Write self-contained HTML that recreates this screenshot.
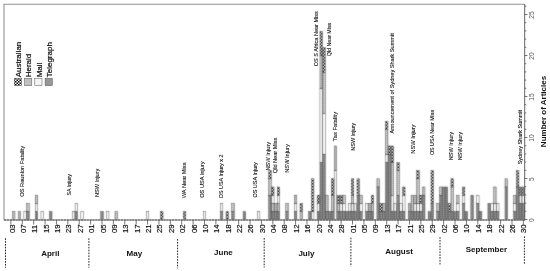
<!DOCTYPE html>
<html><head><meta charset="utf-8"><style>
html,body{margin:0;padding:0;background:#fff;width:550px;height:271px;overflow:hidden}
svg{display:block}
text{font-family:"Liberation Sans",Arial,sans-serif}
</style></head><body>
<svg width="550" height="271" viewBox="0 0 550 271">
<defs>
<filter id="bl" x="0" y="0" width="550" height="271" filterUnits="userSpaceOnUse" color-interpolation-filters="sRGB"><feConvolveMatrix order="3" kernelMatrix="0.03 0.09 0.03 0.09 0.52 0.09 0.03 0.09 0.03" edgeMode="duplicate"/></filter>
<pattern id="pA" width="3" height="3" patternUnits="userSpaceOnUse"><rect width="3" height="3" fill="#fff"/><rect width="1.5" height="1.5" fill="#000"/><rect x="1.5" y="1.5" width="1.5" height="1.5" fill="#000"/></pattern>
<pattern id="pH" width="2" height="2" patternUnits="userSpaceOnUse"><rect width="2" height="2" fill="#b4b4b4"/><rect width="1" height="1" fill="#e4e4e4"/></pattern>
<pattern id="pT" width="2" height="2" patternUnits="userSpaceOnUse"><rect width="2" height="2" fill="#8e8e8e"/><rect width="1" height="1" fill="#6e6e6e"/></pattern>
</defs>
<rect x="0" y="0" width="550" height="271" fill="#fff"/>
<!-- frame -->
<path d="M4,220 V4.3 H524.5" fill="none" stroke="#929292" stroke-width="1.1"/>
<g filter="url(#bl)">
<g>
<rect x="12.49" y="211.60" width="2.5" height="8.20" fill="url(#pH)"/>
<rect x="18.18" y="211.60" width="2.5" height="8.20" fill="url(#pH)"/>
<rect x="23.88" y="211.60" width="2.5" height="8.20" fill="#ffffff"/>
<rect x="26.73" y="211.60" width="2.5" height="8.20" fill="url(#pT)"/>
<rect x="26.73" y="203.40" width="2.5" height="8.20" fill="url(#pH)"/>
<rect x="35.27" y="211.60" width="2.5" height="8.20" fill="url(#pT)"/>
<rect x="35.27" y="203.40" width="2.5" height="8.20" fill="#ffffff"/>
<rect x="35.27" y="195.20" width="2.5" height="8.20" fill="url(#pH)"/>
<rect x="40.96" y="211.60" width="2.5" height="8.20" fill="#ffffff"/>
<rect x="49.50" y="211.60" width="2.5" height="8.20" fill="url(#pT)"/>
<rect x="72.28" y="211.60" width="2.5" height="8.20" fill="#ffffff"/>
<rect x="75.12" y="211.60" width="2.5" height="8.20" fill="url(#pT)"/>
<rect x="75.12" y="203.40" width="2.5" height="8.20" fill="#ffffff"/>
<rect x="80.82" y="211.60" width="2.5" height="8.20" fill="#ffffff"/>
<rect x="100.75" y="211.60" width="2.5" height="8.20" fill="url(#pT)"/>
<rect x="106.44" y="211.60" width="2.5" height="8.20" fill="#ffffff"/>
<rect x="114.98" y="211.60" width="2.5" height="8.20" fill="url(#pH)"/>
<rect x="146.30" y="211.60" width="2.5" height="8.20" fill="#ffffff"/>
<rect x="160.53" y="211.60" width="2.5" height="8.20" fill="url(#pA)"/>
<rect x="183.31" y="211.60" width="2.5" height="8.20" fill="url(#pA)"/>
<rect x="203.24" y="211.60" width="2.5" height="8.20" fill="#ffffff"/>
<rect x="220.32" y="211.60" width="2.5" height="8.20" fill="url(#pT)"/>
<rect x="220.32" y="203.40" width="2.5" height="8.20" fill="#ffffff"/>
<rect x="226.02" y="211.60" width="2.5" height="8.20" fill="url(#pA)"/>
<rect x="231.71" y="211.60" width="2.5" height="8.20" fill="url(#pT)"/>
<rect x="231.71" y="203.40" width="2.5" height="8.20" fill="url(#pH)"/>
<rect x="243.10" y="211.60" width="2.5" height="8.20" fill="url(#pT)"/>
<rect x="257.33" y="211.60" width="2.5" height="8.20" fill="#ffffff"/>
<rect x="268.72" y="195.20" width="2.5" height="24.60" fill="url(#pT)"/>
<rect x="268.72" y="178.80" width="2.5" height="16.40" fill="url(#pH)"/>
<rect x="268.72" y="170.60" width="2.5" height="8.20" fill="url(#pA)"/>
<rect x="271.57" y="211.60" width="2.5" height="8.20" fill="url(#pT)"/>
<rect x="271.57" y="203.40" width="2.5" height="8.20" fill="url(#pH)"/>
<rect x="271.57" y="195.20" width="2.5" height="8.20" fill="#ffffff"/>
<rect x="271.57" y="187.00" width="2.5" height="8.20" fill="url(#pA)"/>
<rect x="274.41" y="211.60" width="2.5" height="8.20" fill="url(#pT)"/>
<rect x="274.41" y="203.40" width="2.5" height="8.20" fill="url(#pH)"/>
<rect x="277.26" y="211.60" width="2.5" height="8.20" fill="url(#pT)"/>
<rect x="277.26" y="203.40" width="2.5" height="8.20" fill="url(#pH)"/>
<rect x="277.26" y="195.20" width="2.5" height="8.20" fill="#ffffff"/>
<rect x="277.26" y="187.00" width="2.5" height="8.20" fill="url(#pA)"/>
<rect x="285.80" y="211.60" width="2.5" height="8.20" fill="url(#pT)"/>
<rect x="285.80" y="203.40" width="2.5" height="8.20" fill="url(#pH)"/>
<rect x="294.34" y="211.60" width="2.5" height="8.20" fill="url(#pT)"/>
<rect x="294.34" y="203.40" width="2.5" height="8.20" fill="#ffffff"/>
<rect x="294.34" y="195.20" width="2.5" height="8.20" fill="url(#pH)"/>
<rect x="300.04" y="211.60" width="2.5" height="8.20" fill="url(#pH)"/>
<rect x="300.04" y="203.40" width="2.5" height="8.20" fill="url(#pA)"/>
<rect x="308.58" y="211.60" width="2.5" height="8.20" fill="url(#pT)"/>
<rect x="311.43" y="211.60" width="2.5" height="8.20" fill="#ffffff"/>
<rect x="311.43" y="178.80" width="2.5" height="32.80" fill="url(#pA)"/>
<rect x="317.12" y="211.60" width="2.5" height="8.20" fill="url(#pT)"/>
<rect x="317.12" y="203.40" width="2.5" height="8.20" fill="#ffffff"/>
<rect x="317.12" y="195.20" width="2.5" height="8.20" fill="url(#pA)"/>
<rect x="319.97" y="162.40" width="2.5" height="57.40" fill="url(#pT)"/>
<rect x="319.97" y="88.60" width="2.5" height="73.80" fill="#ffffff"/>
<rect x="319.97" y="55.80" width="2.5" height="32.80" fill="url(#pH)"/>
<rect x="319.97" y="31.20" width="2.5" height="24.60" fill="url(#pA)"/>
<rect x="322.81" y="154.20" width="2.5" height="65.60" fill="url(#pT)"/>
<rect x="322.81" y="113.20" width="2.5" height="41.00" fill="#ffffff"/>
<rect x="322.81" y="72.20" width="2.5" height="41.00" fill="url(#pH)"/>
<rect x="322.81" y="47.60" width="2.5" height="24.60" fill="url(#pA)"/>
<rect x="325.66" y="211.60" width="2.5" height="8.20" fill="url(#pT)"/>
<rect x="325.66" y="195.20" width="2.5" height="16.40" fill="url(#pH)"/>
<rect x="328.51" y="211.60" width="2.5" height="8.20" fill="url(#pT)"/>
<rect x="331.35" y="211.60" width="2.5" height="8.20" fill="url(#pT)"/>
<rect x="331.35" y="195.20" width="2.5" height="16.40" fill="url(#pH)"/>
<rect x="331.35" y="178.80" width="2.5" height="16.40" fill="url(#pA)"/>
<rect x="334.20" y="170.60" width="2.5" height="49.20" fill="#ffffff"/>
<rect x="334.20" y="146.00" width="2.5" height="24.60" fill="url(#pH)"/>
<rect x="337.05" y="211.60" width="2.5" height="8.20" fill="url(#pT)"/>
<rect x="337.05" y="203.40" width="2.5" height="8.20" fill="url(#pH)"/>
<rect x="337.05" y="195.20" width="2.5" height="8.20" fill="url(#pA)"/>
<rect x="339.90" y="211.60" width="2.5" height="8.20" fill="url(#pT)"/>
<rect x="339.90" y="203.40" width="2.5" height="8.20" fill="#ffffff"/>
<rect x="339.90" y="195.20" width="2.5" height="8.20" fill="url(#pA)"/>
<rect x="342.74" y="211.60" width="2.5" height="8.20" fill="url(#pT)"/>
<rect x="342.74" y="203.40" width="2.5" height="8.20" fill="#ffffff"/>
<rect x="342.74" y="195.20" width="2.5" height="8.20" fill="url(#pH)"/>
<rect x="345.59" y="211.60" width="2.5" height="8.20" fill="url(#pT)"/>
<rect x="348.44" y="211.60" width="2.5" height="8.20" fill="url(#pT)"/>
<rect x="348.44" y="203.40" width="2.5" height="8.20" fill="#ffffff"/>
<rect x="351.28" y="211.60" width="2.5" height="8.20" fill="url(#pT)"/>
<rect x="351.28" y="203.40" width="2.5" height="8.20" fill="#ffffff"/>
<rect x="351.28" y="195.20" width="2.5" height="8.20" fill="url(#pH)"/>
<rect x="351.28" y="178.80" width="2.5" height="16.40" fill="url(#pA)"/>
<rect x="354.13" y="211.60" width="2.5" height="8.20" fill="url(#pT)"/>
<rect x="354.13" y="203.40" width="2.5" height="8.20" fill="#ffffff"/>
<rect x="356.98" y="195.20" width="2.5" height="24.60" fill="url(#pT)"/>
<rect x="356.98" y="178.80" width="2.5" height="16.40" fill="url(#pA)"/>
<rect x="359.82" y="211.60" width="2.5" height="8.20" fill="url(#pT)"/>
<rect x="359.82" y="203.40" width="2.5" height="8.20" fill="#ffffff"/>
<rect x="359.82" y="195.20" width="2.5" height="8.20" fill="url(#pH)"/>
<rect x="365.52" y="211.60" width="2.5" height="8.20" fill="url(#pT)"/>
<rect x="365.52" y="203.40" width="2.5" height="8.20" fill="#ffffff"/>
<rect x="368.37" y="211.60" width="2.5" height="8.20" fill="url(#pT)"/>
<rect x="368.37" y="203.40" width="2.5" height="8.20" fill="url(#pH)"/>
<rect x="371.21" y="211.60" width="2.5" height="8.20" fill="url(#pT)"/>
<rect x="371.21" y="203.40" width="2.5" height="8.20" fill="url(#pH)"/>
<rect x="371.21" y="195.20" width="2.5" height="8.20" fill="url(#pA)"/>
<rect x="376.91" y="187.00" width="2.5" height="32.80" fill="url(#pT)"/>
<rect x="376.91" y="178.80" width="2.5" height="8.20" fill="url(#pH)"/>
<rect x="379.75" y="211.60" width="2.5" height="8.20" fill="url(#pT)"/>
<rect x="379.75" y="203.40" width="2.5" height="8.20" fill="url(#pA)"/>
<rect x="382.60" y="211.60" width="2.5" height="8.20" fill="url(#pT)"/>
<rect x="382.60" y="203.40" width="2.5" height="8.20" fill="url(#pH)"/>
<rect x="385.45" y="162.40" width="2.5" height="57.40" fill="url(#pT)"/>
<rect x="385.45" y="154.20" width="2.5" height="8.20" fill="#ffffff"/>
<rect x="385.45" y="129.60" width="2.5" height="24.60" fill="url(#pH)"/>
<rect x="385.45" y="121.40" width="2.5" height="8.20" fill="url(#pA)"/>
<rect x="388.29" y="154.20" width="2.5" height="65.60" fill="url(#pT)"/>
<rect x="388.29" y="146.00" width="2.5" height="8.20" fill="url(#pA)"/>
<rect x="391.14" y="211.60" width="2.5" height="8.20" fill="url(#pT)"/>
<rect x="391.14" y="195.20" width="2.5" height="16.40" fill="#ffffff"/>
<rect x="391.14" y="162.40" width="2.5" height="32.80" fill="url(#pH)"/>
<rect x="391.14" y="146.00" width="2.5" height="16.40" fill="url(#pA)"/>
<rect x="393.99" y="211.60" width="2.5" height="8.20" fill="url(#pT)"/>
<rect x="393.99" y="203.40" width="2.5" height="8.20" fill="#ffffff"/>
<rect x="396.84" y="195.20" width="2.5" height="24.60" fill="url(#pT)"/>
<rect x="396.84" y="170.60" width="2.5" height="24.60" fill="url(#pH)"/>
<rect x="396.84" y="162.40" width="2.5" height="8.20" fill="url(#pA)"/>
<rect x="399.68" y="211.60" width="2.5" height="8.20" fill="url(#pT)"/>
<rect x="399.68" y="203.40" width="2.5" height="8.20" fill="#ffffff"/>
<rect x="402.53" y="211.60" width="2.5" height="8.20" fill="url(#pT)"/>
<rect x="402.53" y="195.20" width="2.5" height="16.40" fill="#ffffff"/>
<rect x="402.53" y="187.00" width="2.5" height="8.20" fill="url(#pA)"/>
<rect x="408.22" y="211.60" width="2.5" height="8.20" fill="url(#pT)"/>
<rect x="408.22" y="203.40" width="2.5" height="8.20" fill="url(#pH)"/>
<rect x="411.07" y="211.60" width="2.5" height="8.20" fill="url(#pT)"/>
<rect x="411.07" y="195.20" width="2.5" height="16.40" fill="url(#pH)"/>
<rect x="413.92" y="211.60" width="2.5" height="8.20" fill="url(#pT)"/>
<rect x="413.92" y="203.40" width="2.5" height="8.20" fill="#ffffff"/>
<rect x="413.92" y="195.20" width="2.5" height="8.20" fill="url(#pH)"/>
<rect x="416.76" y="211.60" width="2.5" height="8.20" fill="url(#pT)"/>
<rect x="416.76" y="203.40" width="2.5" height="8.20" fill="#ffffff"/>
<rect x="416.76" y="178.80" width="2.5" height="24.60" fill="url(#pH)"/>
<rect x="416.76" y="170.60" width="2.5" height="8.20" fill="url(#pA)"/>
<rect x="419.61" y="211.60" width="2.5" height="8.20" fill="url(#pT)"/>
<rect x="419.61" y="203.40" width="2.5" height="8.20" fill="#ffffff"/>
<rect x="419.61" y="195.20" width="2.5" height="8.20" fill="url(#pA)"/>
<rect x="422.46" y="195.20" width="2.5" height="24.60" fill="url(#pT)"/>
<rect x="422.46" y="187.00" width="2.5" height="8.20" fill="url(#pH)"/>
<rect x="428.15" y="211.60" width="2.5" height="8.20" fill="url(#pT)"/>
<rect x="431.00" y="203.40" width="2.5" height="16.40" fill="url(#pT)"/>
<rect x="431.00" y="170.60" width="2.5" height="32.80" fill="url(#pA)"/>
<rect x="436.69" y="211.60" width="2.5" height="8.20" fill="url(#pT)"/>
<rect x="436.69" y="203.40" width="2.5" height="8.20" fill="url(#pH)"/>
<rect x="439.54" y="195.20" width="2.5" height="24.60" fill="url(#pT)"/>
<rect x="439.54" y="187.00" width="2.5" height="8.20" fill="url(#pH)"/>
<rect x="442.39" y="187.00" width="2.5" height="32.80" fill="url(#pT)"/>
<rect x="445.23" y="187.00" width="2.5" height="32.80" fill="url(#pT)"/>
<rect x="448.08" y="211.60" width="2.5" height="8.20" fill="url(#pT)"/>
<rect x="448.08" y="203.40" width="2.5" height="8.20" fill="url(#pA)"/>
<rect x="450.93" y="211.60" width="2.5" height="8.20" fill="url(#pT)"/>
<rect x="450.93" y="187.00" width="2.5" height="24.60" fill="url(#pH)"/>
<rect x="450.93" y="178.80" width="2.5" height="8.20" fill="url(#pA)"/>
<rect x="453.78" y="211.60" width="2.5" height="8.20" fill="url(#pT)"/>
<rect x="456.62" y="211.60" width="2.5" height="8.20" fill="url(#pT)"/>
<rect x="456.62" y="203.40" width="2.5" height="8.20" fill="#ffffff"/>
<rect x="456.62" y="195.20" width="2.5" height="8.20" fill="url(#pH)"/>
<rect x="462.32" y="203.40" width="2.5" height="16.40" fill="url(#pT)"/>
<rect x="462.32" y="195.20" width="2.5" height="8.20" fill="#ffffff"/>
<rect x="462.32" y="187.00" width="2.5" height="8.20" fill="url(#pA)"/>
<rect x="465.16" y="211.60" width="2.5" height="8.20" fill="url(#pT)"/>
<rect x="470.86" y="195.20" width="2.5" height="24.60" fill="url(#pT)"/>
<rect x="476.55" y="203.40" width="2.5" height="16.40" fill="url(#pT)"/>
<rect x="476.55" y="195.20" width="2.5" height="8.20" fill="#ffffff"/>
<rect x="479.40" y="211.60" width="2.5" height="8.20" fill="url(#pT)"/>
<rect x="487.94" y="203.40" width="2.5" height="16.40" fill="url(#pT)"/>
<rect x="490.79" y="211.60" width="2.5" height="8.20" fill="url(#pT)"/>
<rect x="490.79" y="203.40" width="2.5" height="8.20" fill="#ffffff"/>
<rect x="493.63" y="211.60" width="2.5" height="8.20" fill="url(#pT)"/>
<rect x="493.63" y="203.40" width="2.5" height="8.20" fill="#ffffff"/>
<rect x="493.63" y="187.00" width="2.5" height="16.40" fill="url(#pH)"/>
<rect x="496.48" y="211.60" width="2.5" height="8.20" fill="url(#pT)"/>
<rect x="496.48" y="203.40" width="2.5" height="8.20" fill="#ffffff"/>
<rect x="505.02" y="187.00" width="2.5" height="32.80" fill="url(#pT)"/>
<rect x="505.02" y="178.80" width="2.5" height="8.20" fill="url(#pH)"/>
<rect x="513.56" y="211.60" width="2.5" height="8.20" fill="url(#pT)"/>
<rect x="513.56" y="203.40" width="2.5" height="8.20" fill="#ffffff"/>
<rect x="513.56" y="195.20" width="2.5" height="8.20" fill="url(#pH)"/>
<rect x="516.41" y="187.00" width="2.5" height="32.80" fill="url(#pT)"/>
<rect x="516.41" y="170.60" width="2.5" height="16.40" fill="url(#pA)"/>
<rect x="519.26" y="203.40" width="2.5" height="16.40" fill="url(#pT)"/>
<rect x="519.26" y="195.20" width="2.5" height="8.20" fill="#ffffff"/>
<rect x="519.26" y="187.00" width="2.5" height="8.20" fill="url(#pA)"/>
<rect x="522.10" y="203.40" width="2.5" height="16.40" fill="url(#pT)"/>
<rect x="522.10" y="195.20" width="2.5" height="8.20" fill="#ffffff"/>
<rect x="522.10" y="187.00" width="2.5" height="8.20" fill="url(#pA)"/>
</g>
<g fill="none" stroke="#404040" stroke-width="0.45">
<rect x="12.49" y="211.60" width="2.5" height="8.20"/>
<rect x="18.18" y="211.60" width="2.5" height="8.20"/>
<rect x="23.88" y="211.60" width="2.5" height="8.20"/>
<rect x="26.73" y="211.60" width="2.5" height="8.20"/>
<rect x="26.73" y="203.40" width="2.5" height="8.20"/>
<rect x="35.27" y="211.60" width="2.5" height="8.20"/>
<rect x="35.27" y="203.40" width="2.5" height="8.20"/>
<rect x="35.27" y="195.20" width="2.5" height="8.20"/>
<rect x="40.96" y="211.60" width="2.5" height="8.20"/>
<rect x="49.50" y="211.60" width="2.5" height="8.20"/>
<rect x="72.28" y="211.60" width="2.5" height="8.20"/>
<rect x="75.12" y="211.60" width="2.5" height="8.20"/>
<rect x="75.12" y="203.40" width="2.5" height="8.20"/>
<rect x="80.82" y="211.60" width="2.5" height="8.20"/>
<rect x="100.75" y="211.60" width="2.5" height="8.20"/>
<rect x="106.44" y="211.60" width="2.5" height="8.20"/>
<rect x="114.98" y="211.60" width="2.5" height="8.20"/>
<rect x="146.30" y="211.60" width="2.5" height="8.20"/>
<rect x="160.53" y="211.60" width="2.5" height="8.20"/>
<rect x="183.31" y="211.60" width="2.5" height="8.20"/>
<rect x="203.24" y="211.60" width="2.5" height="8.20"/>
<rect x="220.32" y="211.60" width="2.5" height="8.20"/>
<rect x="220.32" y="203.40" width="2.5" height="8.20"/>
<rect x="226.02" y="211.60" width="2.5" height="8.20"/>
<rect x="231.71" y="211.60" width="2.5" height="8.20"/>
<rect x="231.71" y="203.40" width="2.5" height="8.20"/>
<rect x="243.10" y="211.60" width="2.5" height="8.20"/>
<rect x="257.33" y="211.60" width="2.5" height="8.20"/>
<rect x="268.72" y="195.20" width="2.5" height="24.60"/>
<rect x="268.72" y="178.80" width="2.5" height="16.40"/>
<rect x="268.72" y="170.60" width="2.5" height="8.20"/>
<rect x="271.57" y="211.60" width="2.5" height="8.20"/>
<rect x="271.57" y="203.40" width="2.5" height="8.20"/>
<rect x="271.57" y="195.20" width="2.5" height="8.20"/>
<rect x="271.57" y="187.00" width="2.5" height="8.20"/>
<rect x="274.41" y="211.60" width="2.5" height="8.20"/>
<rect x="274.41" y="203.40" width="2.5" height="8.20"/>
<rect x="277.26" y="211.60" width="2.5" height="8.20"/>
<rect x="277.26" y="203.40" width="2.5" height="8.20"/>
<rect x="277.26" y="195.20" width="2.5" height="8.20"/>
<rect x="277.26" y="187.00" width="2.5" height="8.20"/>
<rect x="285.80" y="211.60" width="2.5" height="8.20"/>
<rect x="285.80" y="203.40" width="2.5" height="8.20"/>
<rect x="294.34" y="211.60" width="2.5" height="8.20"/>
<rect x="294.34" y="203.40" width="2.5" height="8.20"/>
<rect x="294.34" y="195.20" width="2.5" height="8.20"/>
<rect x="300.04" y="211.60" width="2.5" height="8.20"/>
<rect x="300.04" y="203.40" width="2.5" height="8.20"/>
<rect x="308.58" y="211.60" width="2.5" height="8.20"/>
<rect x="311.43" y="211.60" width="2.5" height="8.20"/>
<rect x="311.43" y="178.80" width="2.5" height="32.80"/>
<rect x="317.12" y="211.60" width="2.5" height="8.20"/>
<rect x="317.12" y="203.40" width="2.5" height="8.20"/>
<rect x="317.12" y="195.20" width="2.5" height="8.20"/>
<rect x="319.97" y="162.40" width="2.5" height="57.40"/>
<rect x="319.97" y="88.60" width="2.5" height="73.80"/>
<rect x="319.97" y="55.80" width="2.5" height="32.80"/>
<rect x="319.97" y="31.20" width="2.5" height="24.60"/>
<rect x="322.81" y="154.20" width="2.5" height="65.60"/>
<rect x="322.81" y="113.20" width="2.5" height="41.00"/>
<rect x="322.81" y="72.20" width="2.5" height="41.00"/>
<rect x="322.81" y="47.60" width="2.5" height="24.60"/>
<rect x="325.66" y="211.60" width="2.5" height="8.20"/>
<rect x="325.66" y="195.20" width="2.5" height="16.40"/>
<rect x="328.51" y="211.60" width="2.5" height="8.20"/>
<rect x="331.35" y="211.60" width="2.5" height="8.20"/>
<rect x="331.35" y="195.20" width="2.5" height="16.40"/>
<rect x="331.35" y="178.80" width="2.5" height="16.40"/>
<rect x="334.20" y="170.60" width="2.5" height="49.20"/>
<rect x="334.20" y="146.00" width="2.5" height="24.60"/>
<rect x="337.05" y="211.60" width="2.5" height="8.20"/>
<rect x="337.05" y="203.40" width="2.5" height="8.20"/>
<rect x="337.05" y="195.20" width="2.5" height="8.20"/>
<rect x="339.90" y="211.60" width="2.5" height="8.20"/>
<rect x="339.90" y="203.40" width="2.5" height="8.20"/>
<rect x="339.90" y="195.20" width="2.5" height="8.20"/>
<rect x="342.74" y="211.60" width="2.5" height="8.20"/>
<rect x="342.74" y="203.40" width="2.5" height="8.20"/>
<rect x="342.74" y="195.20" width="2.5" height="8.20"/>
<rect x="345.59" y="211.60" width="2.5" height="8.20"/>
<rect x="348.44" y="211.60" width="2.5" height="8.20"/>
<rect x="348.44" y="203.40" width="2.5" height="8.20"/>
<rect x="351.28" y="211.60" width="2.5" height="8.20"/>
<rect x="351.28" y="203.40" width="2.5" height="8.20"/>
<rect x="351.28" y="195.20" width="2.5" height="8.20"/>
<rect x="351.28" y="178.80" width="2.5" height="16.40"/>
<rect x="354.13" y="211.60" width="2.5" height="8.20"/>
<rect x="354.13" y="203.40" width="2.5" height="8.20"/>
<rect x="356.98" y="195.20" width="2.5" height="24.60"/>
<rect x="356.98" y="178.80" width="2.5" height="16.40"/>
<rect x="359.82" y="211.60" width="2.5" height="8.20"/>
<rect x="359.82" y="203.40" width="2.5" height="8.20"/>
<rect x="359.82" y="195.20" width="2.5" height="8.20"/>
<rect x="365.52" y="211.60" width="2.5" height="8.20"/>
<rect x="365.52" y="203.40" width="2.5" height="8.20"/>
<rect x="368.37" y="211.60" width="2.5" height="8.20"/>
<rect x="368.37" y="203.40" width="2.5" height="8.20"/>
<rect x="371.21" y="211.60" width="2.5" height="8.20"/>
<rect x="371.21" y="203.40" width="2.5" height="8.20"/>
<rect x="371.21" y="195.20" width="2.5" height="8.20"/>
<rect x="376.91" y="187.00" width="2.5" height="32.80"/>
<rect x="376.91" y="178.80" width="2.5" height="8.20"/>
<rect x="379.75" y="211.60" width="2.5" height="8.20"/>
<rect x="379.75" y="203.40" width="2.5" height="8.20"/>
<rect x="382.60" y="211.60" width="2.5" height="8.20"/>
<rect x="382.60" y="203.40" width="2.5" height="8.20"/>
<rect x="385.45" y="162.40" width="2.5" height="57.40"/>
<rect x="385.45" y="154.20" width="2.5" height="8.20"/>
<rect x="385.45" y="129.60" width="2.5" height="24.60"/>
<rect x="385.45" y="121.40" width="2.5" height="8.20"/>
<rect x="388.29" y="154.20" width="2.5" height="65.60"/>
<rect x="388.29" y="146.00" width="2.5" height="8.20"/>
<rect x="391.14" y="211.60" width="2.5" height="8.20"/>
<rect x="391.14" y="195.20" width="2.5" height="16.40"/>
<rect x="391.14" y="162.40" width="2.5" height="32.80"/>
<rect x="391.14" y="146.00" width="2.5" height="16.40"/>
<rect x="393.99" y="211.60" width="2.5" height="8.20"/>
<rect x="393.99" y="203.40" width="2.5" height="8.20"/>
<rect x="396.84" y="195.20" width="2.5" height="24.60"/>
<rect x="396.84" y="170.60" width="2.5" height="24.60"/>
<rect x="396.84" y="162.40" width="2.5" height="8.20"/>
<rect x="399.68" y="211.60" width="2.5" height="8.20"/>
<rect x="399.68" y="203.40" width="2.5" height="8.20"/>
<rect x="402.53" y="211.60" width="2.5" height="8.20"/>
<rect x="402.53" y="195.20" width="2.5" height="16.40"/>
<rect x="402.53" y="187.00" width="2.5" height="8.20"/>
<rect x="408.22" y="211.60" width="2.5" height="8.20"/>
<rect x="408.22" y="203.40" width="2.5" height="8.20"/>
<rect x="411.07" y="211.60" width="2.5" height="8.20"/>
<rect x="411.07" y="195.20" width="2.5" height="16.40"/>
<rect x="413.92" y="211.60" width="2.5" height="8.20"/>
<rect x="413.92" y="203.40" width="2.5" height="8.20"/>
<rect x="413.92" y="195.20" width="2.5" height="8.20"/>
<rect x="416.76" y="211.60" width="2.5" height="8.20"/>
<rect x="416.76" y="203.40" width="2.5" height="8.20"/>
<rect x="416.76" y="178.80" width="2.5" height="24.60"/>
<rect x="416.76" y="170.60" width="2.5" height="8.20"/>
<rect x="419.61" y="211.60" width="2.5" height="8.20"/>
<rect x="419.61" y="203.40" width="2.5" height="8.20"/>
<rect x="419.61" y="195.20" width="2.5" height="8.20"/>
<rect x="422.46" y="195.20" width="2.5" height="24.60"/>
<rect x="422.46" y="187.00" width="2.5" height="8.20"/>
<rect x="428.15" y="211.60" width="2.5" height="8.20"/>
<rect x="431.00" y="203.40" width="2.5" height="16.40"/>
<rect x="431.00" y="170.60" width="2.5" height="32.80"/>
<rect x="436.69" y="211.60" width="2.5" height="8.20"/>
<rect x="436.69" y="203.40" width="2.5" height="8.20"/>
<rect x="439.54" y="195.20" width="2.5" height="24.60"/>
<rect x="439.54" y="187.00" width="2.5" height="8.20"/>
<rect x="442.39" y="187.00" width="2.5" height="32.80"/>
<rect x="445.23" y="187.00" width="2.5" height="32.80"/>
<rect x="448.08" y="211.60" width="2.5" height="8.20"/>
<rect x="448.08" y="203.40" width="2.5" height="8.20"/>
<rect x="450.93" y="211.60" width="2.5" height="8.20"/>
<rect x="450.93" y="187.00" width="2.5" height="24.60"/>
<rect x="450.93" y="178.80" width="2.5" height="8.20"/>
<rect x="453.78" y="211.60" width="2.5" height="8.20"/>
<rect x="456.62" y="211.60" width="2.5" height="8.20"/>
<rect x="456.62" y="203.40" width="2.5" height="8.20"/>
<rect x="456.62" y="195.20" width="2.5" height="8.20"/>
<rect x="462.32" y="203.40" width="2.5" height="16.40"/>
<rect x="462.32" y="195.20" width="2.5" height="8.20"/>
<rect x="462.32" y="187.00" width="2.5" height="8.20"/>
<rect x="465.16" y="211.60" width="2.5" height="8.20"/>
<rect x="470.86" y="195.20" width="2.5" height="24.60"/>
<rect x="476.55" y="203.40" width="2.5" height="16.40"/>
<rect x="476.55" y="195.20" width="2.5" height="8.20"/>
<rect x="479.40" y="211.60" width="2.5" height="8.20"/>
<rect x="487.94" y="203.40" width="2.5" height="16.40"/>
<rect x="490.79" y="211.60" width="2.5" height="8.20"/>
<rect x="490.79" y="203.40" width="2.5" height="8.20"/>
<rect x="493.63" y="211.60" width="2.5" height="8.20"/>
<rect x="493.63" y="203.40" width="2.5" height="8.20"/>
<rect x="493.63" y="187.00" width="2.5" height="16.40"/>
<rect x="496.48" y="211.60" width="2.5" height="8.20"/>
<rect x="496.48" y="203.40" width="2.5" height="8.20"/>
<rect x="505.02" y="187.00" width="2.5" height="32.80"/>
<rect x="505.02" y="178.80" width="2.5" height="8.20"/>
<rect x="513.56" y="211.60" width="2.5" height="8.20"/>
<rect x="513.56" y="203.40" width="2.5" height="8.20"/>
<rect x="513.56" y="195.20" width="2.5" height="8.20"/>
<rect x="516.41" y="187.00" width="2.5" height="32.80"/>
<rect x="516.41" y="170.60" width="2.5" height="16.40"/>
<rect x="519.26" y="203.40" width="2.5" height="16.40"/>
<rect x="519.26" y="195.20" width="2.5" height="8.20"/>
<rect x="519.26" y="187.00" width="2.5" height="8.20"/>
<rect x="522.10" y="203.40" width="2.5" height="16.40"/>
<rect x="522.10" y="195.20" width="2.5" height="8.20"/>
<rect x="522.10" y="187.00" width="2.5" height="8.20"/>
</g>
</g>
<!-- axes -->
<line x1="4" y1="220.0" x2="524.7" y2="220.0" stroke="#999" stroke-width="1.1"/>
<line x1="6.97" y1="220.0" x2="524.7" y2="220.0" stroke="#505050" stroke-width="1.1" stroke-dasharray="2.147,0.7"/>
<line x1="4" y1="220.0" x2="6.27" y2="220.0" stroke="#505050" stroke-width="1.1"/>
<line x1="524.7" y1="4" x2="524.7" y2="220.5" stroke="#555" stroke-width="0.9"/>
<g stroke="#555" stroke-width="0.8">
<line x1="10.89" y1="220" x2="10.89" y2="224.6"/>
<line x1="22.28" y1="220" x2="22.28" y2="224.6"/>
<line x1="33.67" y1="220" x2="33.67" y2="224.6"/>
<line x1="45.06" y1="220" x2="45.06" y2="224.6"/>
<line x1="56.45" y1="220" x2="56.45" y2="224.6"/>
<line x1="67.83" y1="220" x2="67.83" y2="224.6"/>
<line x1="79.22" y1="220" x2="79.22" y2="224.6"/>
<line x1="90.61" y1="220" x2="90.61" y2="224.6"/>
<line x1="102.00" y1="220" x2="102.00" y2="224.6"/>
<line x1="113.39" y1="220" x2="113.39" y2="224.6"/>
<line x1="124.77" y1="220" x2="124.77" y2="224.6"/>
<line x1="136.16" y1="220" x2="136.16" y2="224.6"/>
<line x1="147.55" y1="220" x2="147.55" y2="224.6"/>
<line x1="158.94" y1="220" x2="158.94" y2="224.6"/>
<line x1="170.33" y1="220" x2="170.33" y2="224.6"/>
<line x1="181.71" y1="220" x2="181.71" y2="224.6"/>
<line x1="193.10" y1="220" x2="193.10" y2="224.6"/>
<line x1="204.49" y1="220" x2="204.49" y2="224.6"/>
<line x1="215.88" y1="220" x2="215.88" y2="224.6"/>
<line x1="227.27" y1="220" x2="227.27" y2="224.6"/>
<line x1="238.65" y1="220" x2="238.65" y2="224.6"/>
<line x1="250.04" y1="220" x2="250.04" y2="224.6"/>
<line x1="261.43" y1="220" x2="261.43" y2="224.6"/>
<line x1="272.82" y1="220" x2="272.82" y2="224.6"/>
<line x1="284.21" y1="220" x2="284.21" y2="224.6"/>
<line x1="295.59" y1="220" x2="295.59" y2="224.6"/>
<line x1="306.98" y1="220" x2="306.98" y2="224.6"/>
<line x1="318.37" y1="220" x2="318.37" y2="224.6"/>
<line x1="329.76" y1="220" x2="329.76" y2="224.6"/>
<line x1="341.15" y1="220" x2="341.15" y2="224.6"/>
<line x1="352.53" y1="220" x2="352.53" y2="224.6"/>
<line x1="363.92" y1="220" x2="363.92" y2="224.6"/>
<line x1="375.31" y1="220" x2="375.31" y2="224.6"/>
<line x1="386.70" y1="220" x2="386.70" y2="224.6"/>
<line x1="398.09" y1="220" x2="398.09" y2="224.6"/>
<line x1="409.47" y1="220" x2="409.47" y2="224.6"/>
<line x1="420.86" y1="220" x2="420.86" y2="224.6"/>
<line x1="432.25" y1="220" x2="432.25" y2="224.6"/>
<line x1="443.64" y1="220" x2="443.64" y2="224.6"/>
<line x1="455.03" y1="220" x2="455.03" y2="224.6"/>
<line x1="466.41" y1="220" x2="466.41" y2="224.6"/>
<line x1="477.80" y1="220" x2="477.80" y2="224.6"/>
<line x1="489.19" y1="220" x2="489.19" y2="224.6"/>
<line x1="500.58" y1="220" x2="500.58" y2="224.6"/>
<line x1="511.97" y1="220" x2="511.97" y2="224.6"/>
<line x1="523.35" y1="220" x2="523.35" y2="224.6"/>
<line x1="524.5" y1="219.50" x2="527.5" y2="219.50"/>
<line x1="524.5" y1="211.30" x2="526.3" y2="211.30"/>
<line x1="524.5" y1="203.10" x2="526.3" y2="203.10"/>
<line x1="524.5" y1="194.90" x2="526.3" y2="194.90"/>
<line x1="524.5" y1="186.70" x2="526.3" y2="186.70"/>
<line x1="524.5" y1="178.50" x2="527.5" y2="178.50"/>
<line x1="524.5" y1="170.30" x2="526.3" y2="170.30"/>
<line x1="524.5" y1="162.10" x2="526.3" y2="162.10"/>
<line x1="524.5" y1="153.90" x2="526.3" y2="153.90"/>
<line x1="524.5" y1="145.70" x2="526.3" y2="145.70"/>
<line x1="524.5" y1="137.50" x2="527.5" y2="137.50"/>
<line x1="524.5" y1="129.30" x2="526.3" y2="129.30"/>
<line x1="524.5" y1="121.10" x2="526.3" y2="121.10"/>
<line x1="524.5" y1="112.90" x2="526.3" y2="112.90"/>
<line x1="524.5" y1="104.70" x2="526.3" y2="104.70"/>
<line x1="524.5" y1="96.50" x2="527.5" y2="96.50"/>
<line x1="524.5" y1="88.30" x2="526.3" y2="88.30"/>
<line x1="524.5" y1="80.10" x2="526.3" y2="80.10"/>
<line x1="524.5" y1="71.90" x2="526.3" y2="71.90"/>
<line x1="524.5" y1="63.70" x2="526.3" y2="63.70"/>
<line x1="524.5" y1="55.50" x2="527.5" y2="55.50"/>
<line x1="524.5" y1="47.30" x2="526.3" y2="47.30"/>
<line x1="524.5" y1="39.10" x2="526.3" y2="39.10"/>
<line x1="524.5" y1="30.90" x2="526.3" y2="30.90"/>
<line x1="524.5" y1="22.70" x2="526.3" y2="22.70"/>
<line x1="524.5" y1="14.50" x2="527.5" y2="14.50"/>
<line x1="524.5" y1="6.30" x2="526.3" y2="6.30"/>
</g>
<g font-size="7.8" fill="#111" stroke="#111" stroke-width="0.2">
<text transform="translate(14.59,233.1) rotate(-90)">03</text>
<text transform="translate(25.96,233.1) rotate(-90)">07</text>
<text transform="translate(37.33,233.1) rotate(-90)">11</text>
<text transform="translate(48.70,233.1) rotate(-90)">15</text>
<text transform="translate(60.07,233.1) rotate(-90)">19</text>
<text transform="translate(71.45,233.1) rotate(-90)">23</text>
<text transform="translate(82.82,233.1) rotate(-90)">27</text>
<text transform="translate(94.19,233.1) rotate(-90)">01</text>
<text transform="translate(105.56,233.1) rotate(-90)">05</text>
<text transform="translate(116.93,233.1) rotate(-90)">09</text>
<text transform="translate(128.30,233.1) rotate(-90)">13</text>
<text transform="translate(139.67,233.1) rotate(-90)">17</text>
<text transform="translate(151.04,233.1) rotate(-90)">21</text>
<text transform="translate(162.41,233.1) rotate(-90)">25</text>
<text transform="translate(173.78,233.1) rotate(-90)">29</text>
<text transform="translate(185.15,233.1) rotate(-90)">02</text>
<text transform="translate(196.52,233.1) rotate(-90)">06</text>
<text transform="translate(207.89,233.1) rotate(-90)">10</text>
<text transform="translate(219.26,233.1) rotate(-90)">14</text>
<text transform="translate(230.63,233.1) rotate(-90)">18</text>
<text transform="translate(242.00,233.1) rotate(-90)">22</text>
<text transform="translate(253.37,233.1) rotate(-90)">26</text>
<text transform="translate(264.74,233.1) rotate(-90)">30</text>
<text transform="translate(276.11,233.1) rotate(-90)">04</text>
<text transform="translate(287.48,233.1) rotate(-90)">08</text>
<text transform="translate(298.85,233.1) rotate(-90)">12</text>
<text transform="translate(310.22,233.1) rotate(-90)">16</text>
<text transform="translate(321.59,233.1) rotate(-90)">20</text>
<text transform="translate(332.96,233.1) rotate(-90)">24</text>
<text transform="translate(344.33,233.1) rotate(-90)">28</text>
<text transform="translate(355.70,233.1) rotate(-90)">01</text>
<text transform="translate(367.07,233.1) rotate(-90)">05</text>
<text transform="translate(378.44,233.1) rotate(-90)">09</text>
<text transform="translate(389.81,233.1) rotate(-90)">13</text>
<text transform="translate(401.18,233.1) rotate(-90)">17</text>
<text transform="translate(412.55,233.1) rotate(-90)">21</text>
<text transform="translate(423.92,233.1) rotate(-90)">25</text>
<text transform="translate(435.29,233.1) rotate(-90)">29</text>
<text transform="translate(446.66,233.1) rotate(-90)">02</text>
<text transform="translate(458.03,233.1) rotate(-90)">06</text>
<text transform="translate(469.40,233.1) rotate(-90)">10</text>
<text transform="translate(480.77,233.1) rotate(-90)">14</text>
<text transform="translate(492.14,233.1) rotate(-90)">18</text>
<text transform="translate(503.51,233.1) rotate(-90)">22</text>
<text transform="translate(514.88,233.1) rotate(-90)">26</text>
<text transform="translate(526.25,233.1) rotate(-90)">30</text>
</g>
<g font-size="6.6" fill="#555">
<text transform="translate(533.70,220.10) rotate(-90)" text-anchor="middle">0</text>
<text transform="translate(533.70,179.10) rotate(-90)" text-anchor="middle">5</text>
<text transform="translate(533.70,138.10) rotate(-90)" text-anchor="middle">10</text>
<text transform="translate(533.70,97.10) rotate(-90)" text-anchor="middle">15</text>
<text transform="translate(533.70,56.10) rotate(-90)" text-anchor="middle">20</text>
<text transform="translate(533.70,15.10) rotate(-90)" text-anchor="middle">25</text>
</g>
<text transform="translate(545.6,111.5) rotate(-90)" text-anchor="middle" font-size="8" font-weight="bold" fill="#111">Number of Articles</text>
<g font-size="5.6" fill="#1a1a1a" stroke="#1a1a1a" stroke-width="0.12">
<text transform="translate(23.60,196.70) rotate(-90)" font-size="5.7">OS Reunion Fatality</text>
<text transform="translate(70.80,195.50) rotate(-90)" font-size="5.35">SA Injury</text>
<text transform="translate(98.90,197.00) rotate(-90)" font-size="5.6">NSW Injury</text>
<text transform="translate(186.40,198.30) rotate(-90)" font-size="5.7">WA Near Miss</text>
<text transform="translate(204.40,197.80) rotate(-90)" font-size="5.65">OS USA Injury</text>
<text transform="translate(223.20,198.30) rotate(-90)" font-size="5.45">OS USA Injury x 2</text>
<text transform="translate(257.00,197.60) rotate(-90)" font-size="5.5">OS USA Injury</text>
<text transform="translate(270.30,170.60) rotate(-90)" font-size="5.7">NSW Injury</text>
<text transform="translate(276.90,173.20) rotate(-90)" font-size="5.6">Qld Near Miss</text>
<text transform="translate(288.60,172.70) rotate(-90)" font-size="5.65">NSW Injury</text>
<text transform="translate(317.60,66.30) rotate(-90)" font-size="5.55">OS S Africa Near Miss</text>
<text transform="translate(330.60,56.30) rotate(-90)" font-size="5.3">Qld Near Miss</text>
<text transform="translate(337.40,141.20) rotate(-90)" font-size="5.8">Tas Fatality</text>
<text transform="translate(355.00,150.70) rotate(-90)" font-size="5.5">NSW Injury</text>
<text transform="translate(393.80,133.50) rotate(-90)" font-size="5.57">Announcement of Sydney Shark Summit</text>
<text transform="translate(414.60,153.80) rotate(-90)" font-size="5.8">NSW Injury</text>
<text transform="translate(434.00,155.00) rotate(-90)" font-size="5.3">OS USA Near Miss</text>
<text transform="translate(453.40,160.30) rotate(-90)" font-size="5.6">NSW Injury</text>
<text transform="translate(461.50,160.30) rotate(-90)" font-size="5.6">NSW Injury</text>
<text transform="translate(521.80,164.30) rotate(-90)" font-size="5.5">Sydney Shark Summit</text>
</g>
<!-- legend -->
<g stroke="#555" stroke-width="0.5">
<rect x="14.3" y="78.3" width="7.2" height="7.4" fill="url(#pA)"/>
<rect x="24.6" y="78.3" width="7.2" height="7.4" fill="#c2c2c2"/>
<rect x="34.8" y="78.3" width="7.2" height="7.4" fill="#f4f4f4"/>
<rect x="45.1" y="78.3" width="7.2" height="7.4" fill="#979797"/>
</g>
<g font-size="8" fill="#111" stroke="#111" stroke-width="0.22">
<text transform="translate(21.1,77.3) rotate(-90)">Australian</text>
<text transform="translate(31.2,77.3) rotate(-90)">Herald</text>
<text transform="translate(41.5,77.3) rotate(-90)">Mail</text>
<text transform="translate(52.2,77.3) rotate(-90)">Telegraph</text>
</g>
<!-- months -->
<g stroke="#222" stroke-width="1" stroke-dasharray="1.6,1.25">
<line x1="5.5" y1="238.3" x2="5.5" y2="267.7"/>
<line x1="88.9" y1="238.3" x2="88.9" y2="267.7"/>
<line x1="177.6" y1="239.1" x2="177.6" y2="268.3"/>
<line x1="264.2" y1="238.0" x2="264.2" y2="267.5"/>
<line x1="350.9" y1="237.7" x2="350.9" y2="266.4"/>
<line x1="440.0" y1="237.2" x2="440.0" y2="265.2"/>
<line x1="524.4" y1="236.4" x2="524.4" y2="264.5"/>
</g>
<g font-size="8" font-weight="bold" fill="#111">
<text x="50.3" y="256.0" text-anchor="middle">April</text>
<text x="134.3" y="256.0" text-anchor="middle">May</text>
<text x="223.4" y="254.6" text-anchor="middle">June</text>
<text x="306.4" y="256.0" text-anchor="middle">July</text>
<text x="399.1" y="253.5" text-anchor="middle">August</text>
<text x="486.4" y="252.2" text-anchor="middle">September</text>
</g>
</svg>
</body></html>
